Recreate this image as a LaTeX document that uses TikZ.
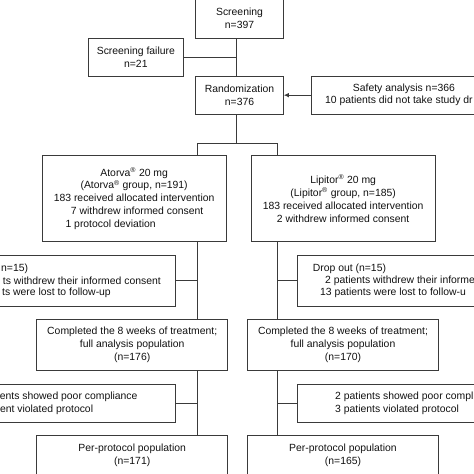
\documentclass[tikz,border=0pt]{standalone}
\usepackage{fontspec}
\setmainfont{Liberation Sans}
\usetikzlibrary{arrows.meta}
\definecolor{linec}{HTML}{3A3A3A}
\definecolor{textc}{HTML}{111111}
\newcommand{\diagfont}{\fontsize{10.4}{12.9}\selectfont}
\newcommand{\reg}{\textsuperscript{\scriptsize ®}}
\begin{document}
\begin{tikzpicture}[x=1pt,y=-1pt,
  box/.style={draw=linec, line width=0.9pt, rectangle, inner sep=0pt, align=center, text=textc, font=\diagfont},
  txt/.style={inner sep=0pt, align=center, text=textc, font=\diagfont},
  conn/.style={draw=linec, line width=0.9pt},
  arr/.style={conn, -{Latex[length=5pt,width=4.5pt]}}]
\useasboundingbox (0,0) rectangle (474,474);

% top boxes
\node[box, minimum width=87.6pt, minimum height=39.3pt] (scr) at (239.5,18.7) {Screening\\n=397};
\node[box, minimum width=95.7pt, minimum height=38pt] (fail) at (135.85,57.3) {Screening failure\\n=21};
\node[box, minimum width=87.6pt, minimum height=37.7pt] (rand) at (239.5,95.15) {Randomization\\n=376};
\node[box, minimum width=183.3pt, minimum height=37.7pt] (safe) at (403.35,95.15) {};
\node[txt, anchor=west] (safe1) at (352.7,89.3) {Safety analysis n=366};
\node[txt, anchor=west] (safe2) at (325,100.7) {10 patients did not take study dr};

% group boxes
\node[box, minimum width=184.3pt, minimum height=86pt] (ator) at (134.15,198.7)
  {Atorva\reg{} 20 mg\\(Atorva\reg{} group, n=191)\\183 received allocated intervention\\\hspace*{6pt}7 withdrew informed consent\\\hspace*{-47pt}1 protocol deviation};
\node[box, minimum width=183.7pt, minimum height=86pt] (lipi) at (343.15,198.7)
  {Lipitor\reg{} 20 mg\\(Lipitor\reg{} group, n=185)\\183 received allocated intervention\\2 withdrew informed consent};

% drop out boxes
\node[box, minimum width=235.7pt, minimum height=51.7pt] (dropL) at (57.85,280.85) {};
\node[txt, anchor=west] (dl1) at (1,269.3) {n=15)};
\node[txt, anchor=east] (dl2) at (161,280.7) {ts withdrew their informed consent};
\node[txt, anchor=east] (dl3) at (111,292.7) {ts were lost to follow-up};
\node[box, minimum width=232.3pt, minimum height=51.7pt] (dropR) at (413.85,280.85) {};
\node[txt, anchor=west] (dr1) at (312.7,269.3) {Drop out (n=15)};
\node[txt, anchor=west] (dr2) at (325,280.7) {2 patients withdrew their informe};
\node[txt, anchor=west] (dr3) at (320,292.7) {13 patients were lost to follow-u};

% completed boxes
\node[box, minimum width=191pt, minimum height=51pt] (compL) at (132.2,345.2)
  {Completed the 8 weeks of treatment;\\full analysis population\\(n=176)};
\node[box, minimum width=191.4pt, minimum height=51pt] (compR) at (343,345.2)
  {Completed the 8 weeks of treatment;\\full analysis population\\(n=170)};

% compliance boxes
\node[box, minimum width=235.7pt, minimum height=38.3pt] (pcL) at (57.85,403.15) {};
\node[txt, anchor=east] (pl1) at (137.7,397.3) {ents showed poor compliance};
\node[txt, anchor=east] (pl2) at (93.3,410) {ent violated protocol};
\node[box, minimum width=232.3pt, minimum height=38.3pt] (pcR) at (413.85,403.15) {};
\node[txt, anchor=west] (pr1) at (335,397.3) {2 patients showed poor compl};
\node[txt, anchor=west] (pr2) at (335,410) {3 patients violated protocol};

% per-protocol boxes
\node[box, minimum width=191pt, minimum height=44.3pt] (ppL) at (132.2,457.85) {};
\node[txt] (ppLt) at (132.2,454.9) {Per-protocol population\\(n=171)};
\node[box, minimum width=191.4pt, minimum height=44.3pt] (ppR) at (343,457.85) {};
\node[txt] (ppRt) at (343,454.9) {Per-protocol population\\(n=165)};

% connectors
\coordinate (trunk) at (236,0);
\coordinate (split) at (236,143.7);
\coordinate (lx) at (197,0);
\coordinate (rx) at (277,0);
\draw[conn] (scr.south -| trunk) -- (rand.north -| trunk);
\draw[conn] (fail.east) -- (fail.east -| trunk);
\draw[arr] (safe.west) -- (rand.east);
\draw[conn] (rand.south -| trunk) -- (split);
\draw[conn] (ator.north -| lx) -- (split -| lx) -- (split -| rx) -- (lipi.north -| rx);
\draw[conn] (ator.south -| lx) -- (compL.north -| lx);
\draw[conn] (lipi.south -| rx) -- (compR.north -| rx);
\draw[conn] (dropL.east) -- (dropL.east -| lx);
\draw[conn] (dropR.west) -- (dropR.west -| rx);
\draw[conn] (compL.south -| lx) -- (ppL.north -| lx);
\draw[conn] (compR.south -| rx) -- (ppR.north -| rx);
\draw[conn] (pcL.east) -- (pcL.east -| lx);
\draw[conn] (pcR.west) -- (pcR.west -| rx);
\end{tikzpicture}
\end{document}
